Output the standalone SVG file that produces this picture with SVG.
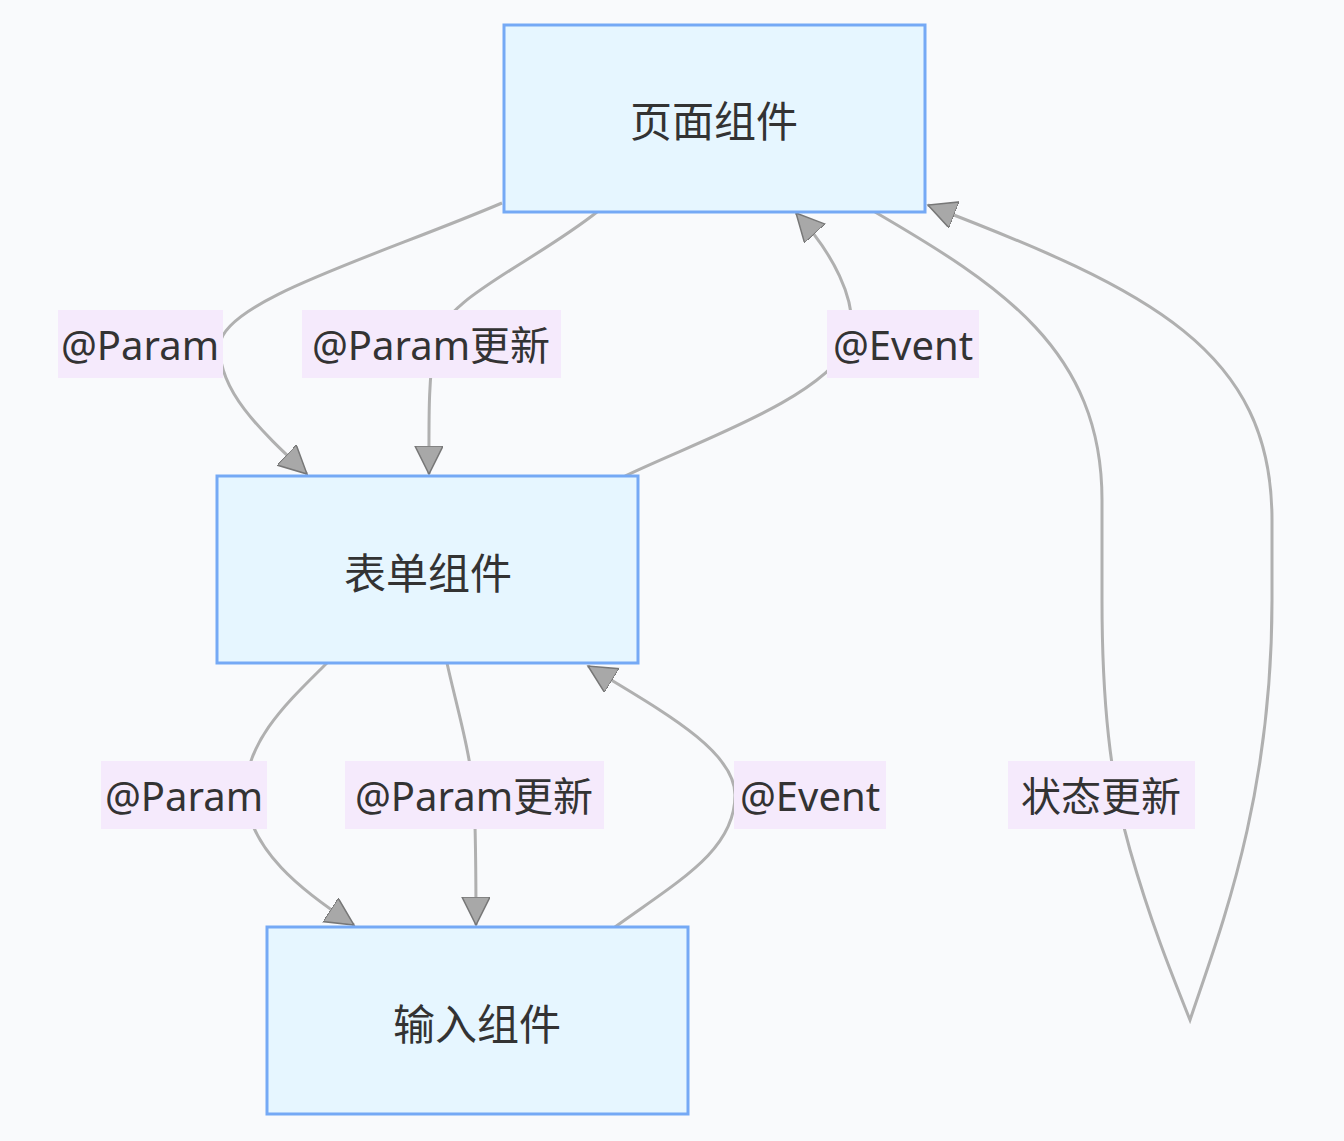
<svg xmlns="http://www.w3.org/2000/svg" width="1344" height="1141" viewBox="0 0 1344 1141">
<style>
.n{fill:#e6f6ff;stroke:#75a9f5;stroke-width:3}
.t{font-family:"Noto Sans CJK SC","Noto Sans",sans-serif;font-size:42px;fill:#333;text-anchor:middle;dominant-baseline:central}
.l{font-family:"Noto Sans","Noto Sans CJK SC",sans-serif;font-size:40px;fill:#333;text-anchor:middle;dominant-baseline:central}
.lb{fill:#f5eafc}
.e{fill:none;stroke:#b0b0b0;stroke-width:3}
</style>
<defs>
<marker id="a" markerUnits="userSpaceOnUse" markerWidth="34" markerHeight="34" refX="28" refY="14" orient="auto">
<path d="M0,0 L28,14 L0,28 Z" fill="#a8a8a8" stroke="#777" stroke-width="1.5"/>
</marker>
</defs>
<rect width="1344" height="1141" fill="#f9fafc"/>
<g id="edges">
<path class="e" marker-end="url(#a)" d="M502,203 C380,255 225,300 220,344 C217,390 260,430 307,474"/>
<path class="e" marker-end="url(#a)" d="M597,212 C530,265 440,300 435,344 C428,380 429,420 429,474"/>
<path class="e" marker-end="url(#a)" d="M625,476 C700,440 820,400 850,344 C860,300 830,250 796,213"/>
<path class="e" marker-end="url(#a)" d="M327,663 C290,700 245,740 245,795 C250,850 300,890 354,925"/>
<path class="e" marker-end="url(#a)" d="M447,663 C455,700 470,750 474,795 C476,840 476,880 476,925"/>
<path class="e" marker-end="url(#a)" d="M615,927 C680,880 735,850 735,795 C735,750 660,710 588,666"/>
<path class="e" marker-end="url(#a)" d="M875,212 C1000,285 1102,350 1102,500 L1102,600 C1102,700 1110,780 1130,850 C1150,920 1170,970 1190,1020 C1220,930 1272,800 1272,600 L1272,520 C1272,350 1150,290 928,205"/>
</g>
<g id="labels">
<rect class="lb" x="58" y="310" width="165" height="68"/><text class="l" x="140" y="344">@Param</text>
<rect class="lb" x="302" y="310" width="259" height="68"/><text class="l" x="431" y="344">@Param更新</text>
<rect class="lb" x="827" y="310" width="152" height="68"/><text class="l" x="903" y="344">@Event</text>
<rect class="lb" x="101" y="761" width="166" height="68"/><text class="l" x="184" y="795">@Param</text>
<rect class="lb" x="345" y="761" width="259" height="68"/><text class="l" x="474" y="795">@Param更新</text>
<rect class="lb" x="734" y="761" width="152" height="68"/><text class="l" x="810" y="795">@Event</text>
<rect class="lb" x="1008" y="761" width="187" height="68"/><text class="l" x="1101" y="795">状态更新</text>
</g>
<g id="page"><rect class="n" x="504" y="25" width="421" height="187"/><text class="t" x="714" y="118">页面组件</text></g>
<g id="form"><rect class="n" x="217" y="476" width="421" height="187"/><text class="t" x="428" y="570">表单组件</text></g>
<g id="input"><rect class="n" x="267" y="927" width="421" height="187"/><text class="t" x="477" y="1021">输入组件</text></g>
</svg>
